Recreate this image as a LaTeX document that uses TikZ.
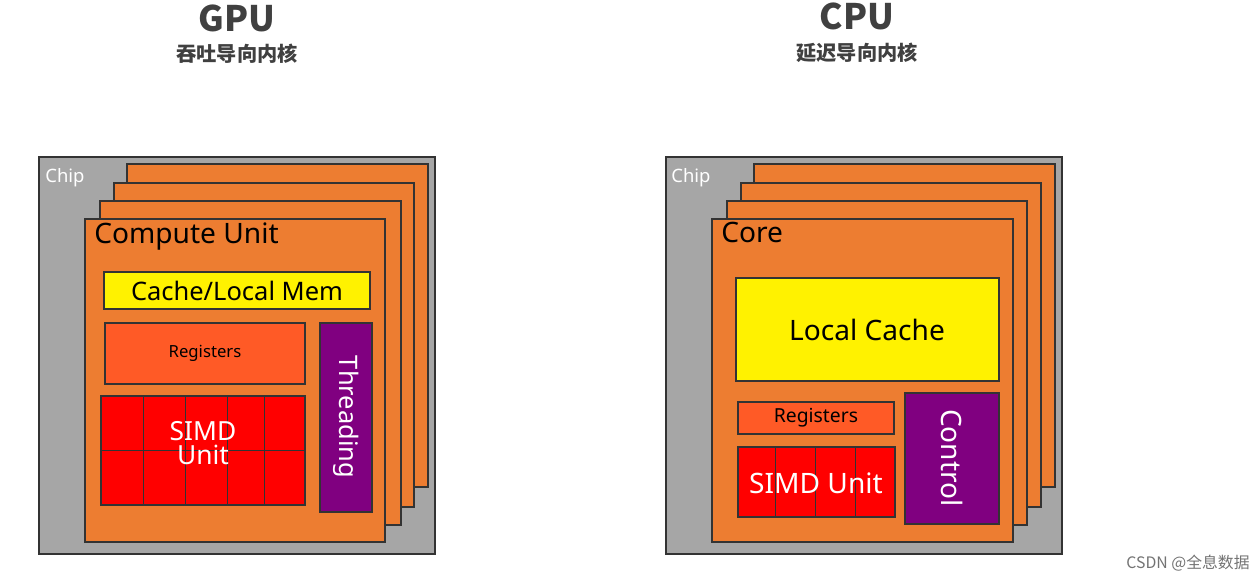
\documentclass[tikz,border=0pt]{standalone}
\usepackage{fontspec}
\setmainfont{Noto Sans}
\newfontfamily\cjk{Noto Sans CJK SC}
\definecolor{chipgray}{HTML}{A6A6A6}
\definecolor{cuorange}{HTML}{ED7D31}
\definecolor{regorange}{HTML}{FF5A26}
\definecolor{thrpurple}{HTML}{800080}
\tikzset{
  box/.style={draw=black!80,line width=0.6pt},
  chip/.style={box,fill=chipgray},
  card/.style={box,fill=cuorange},
  cache/.style={box,fill=yellow},
  regs/.style={box,fill=regorange},
  simd/.style={box,fill=red},
  ctrl/.style={box,fill=thrpurple},
}
\begin{document}
\begin{tikzpicture}[x=0.02cm,y=-0.02cm]
    \useasboundingbox (0,0) rectangle (1259,582);

    % ================== GPU ==================
    \node[font=\cjk\bfseries\fontsize{20}{22}\selectfont,text=black!75] (gputitle) at (237,18) {GPU};
    \node[font=\cjk\bfseries\fontsize{11.5}{13}\selectfont,text=black!75] (gpusub) at (237,54) {吞吐导向内核};

    \draw[chip] (39,157) rectangle (435,554);
    \node[anchor=north west,text=white,font=\fontsize{10.5}{12}\selectfont,inner sep=0pt] (gpuchip) at (45,168) {Chip};
    \draw[card] (127,164) rectangle (428,487);
    \draw[card] (114,183) rectangle (414,507);
    \draw[card] (100,201) rectangle (401,525);
    \draw[card] (85,219) rectangle (385,542);
    \node[anchor=north west,inner sep=0pt,font=\fontsize{16}{18}\selectfont] (cu) at (94,222) {Compute Unit};

    \draw[cache] (104,272) rectangle (370,309);
    \node[font=\fontsize{14.5}{16}\selectfont] (gpucache) at (237,291) {Cache/Local Mem};
    \draw[regs] (105,323) rectangle (305,384);
    \node[font=\fontsize{9.5}{11}\selectfont] (gpuregs) at (205,353) {Registers};
    \draw[ctrl] (320,323) rectangle (372,512);
    \node[rotate=-90,text=white,font=\fontsize{14.5}{16}\selectfont] (thread) at (346,417) {Threading};
    \draw[simd] (101,396) rectangle (305,505);
    \foreach \x in {143,185,227,264}
        \draw[black!80] (\x,396) -- (\x,505);
    \draw[black!80] (101,450) -- (305,450);
    \node[text=white,align=center,font=\fontsize{15}{14}\selectfont] (gpusimd) at (203,443) {SIMD\\Unit};

    % ================== CPU ==================
    \node[font=\cjk\bfseries\fontsize{20}{22}\selectfont,text=black!75] (cputitle) at (857,16) {CPU};
    \node[font=\cjk\bfseries\fontsize{11.5}{13}\selectfont,text=black!75] (cpusub) at (857,53) {延迟导向内核};

    \draw[chip] (666,157) rectangle (1062,554);
    \node[anchor=north west,text=white,font=\fontsize{10.5}{12}\selectfont,inner sep=0pt] (cpuchip) at (671,168) {Chip};
    \draw[card] (754,164) rectangle (1055,487);
    \draw[card] (741,183) rectangle (1041,507);
    \draw[card] (727,201) rectangle (1027,525);
    \draw[card] (712,219) rectangle (1013,542);
    \node[anchor=north west,inner sep=0pt,font=\fontsize{16}{18}\selectfont] (core) at (721,222) {Core};

    \draw[cache] (736,278) rectangle (999,381);
    \node[font=\fontsize{16}{18}\selectfont] (cpucache) at (867,330) {Local Cache};
    \draw[regs] (738,402) rectangle (894,434);
    \node[font=\fontsize{11}{13}\selectfont] (cpuregs) at (816,418) {Registers};
    \draw[ctrl] (905,393) rectangle (999,524);
    \node[rotate=-90,text=white,font=\fontsize{16}{18}\selectfont] (control) at (952,458) {Control};
    \draw[simd] (738,447) rectangle (895,517);
    \foreach \x in {775,815,855}
        \draw[black!80] (\x,447) -- (\x,517);
    \node[text=white,font=\fontsize{16}{18}\selectfont] (cpusimd) at (816,483) {SIMD Unit};

    \node[text=black!55,font=\cjk\fontsize{9}{10}\selectfont] (mark) at (1188,563) {CSDN @全息数据};
\end{tikzpicture}
\end{document}
